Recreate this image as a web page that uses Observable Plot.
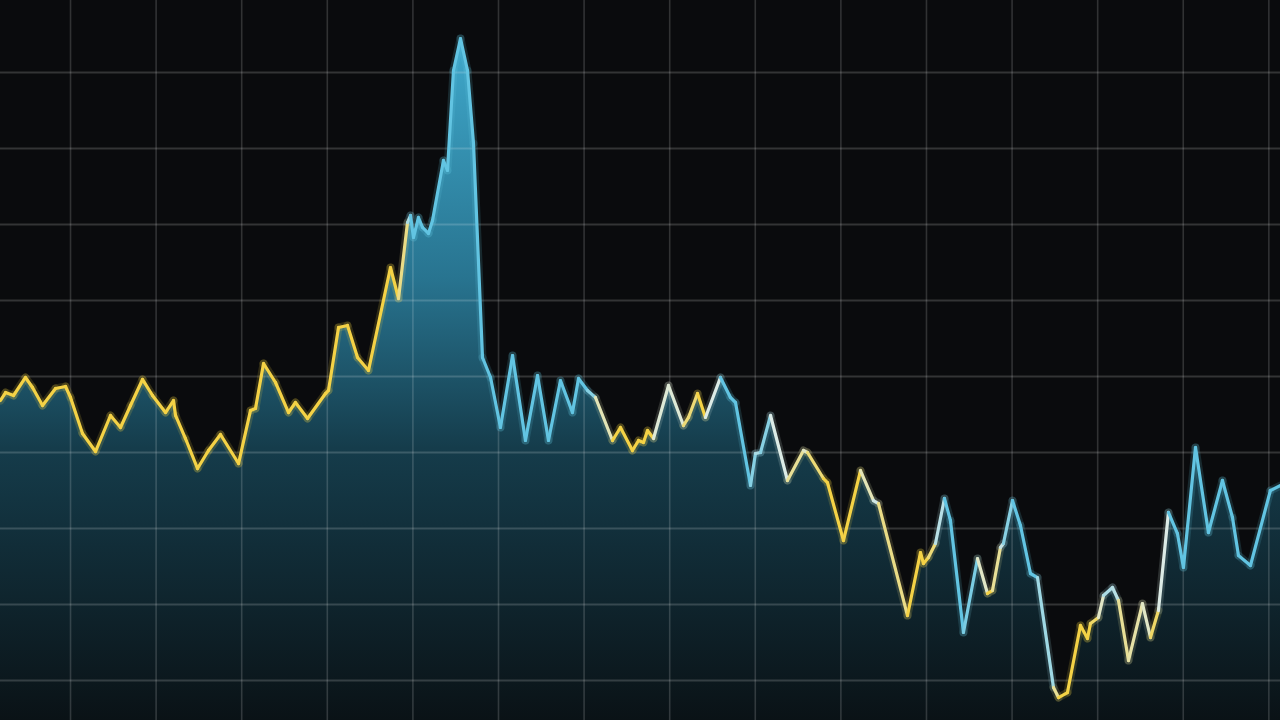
<!DOCTYPE html>
<html>
<head>
<meta charset="utf-8">
<script src="https://cdn.jsdelivr.net/npm/d3@7"></script>
<script src="https://cdn.jsdelivr.net/npm/@observablehq/plot@0.6"></script>
<style>
  html, body { margin: 0; padding: 0; background: #0a0b0d; overflow: hidden; }
  #chart { width: 1280px; height: 720px; }
</style>
</head>
<body>
<div id="chart"></div>
<script>
// time index (grid every 10 units)
const t = [1.82,2.41,3.34,4.74,5.56,6.73,8.25,9.42,10.0,11.40,12.92,14.67,15.84,17.01,18.41,19.58,21.10,22.03,22.27,23.43,24.84,26.12,27.52,29.63,31.03,31.61,32.55,33.95,35.47,36.28,37.69,39.79,40.14,41.31,42.36,43.53,44.81,47.38,48.32,49.37,49.72,50.07,50.65,51.12,51.82,52.29,53.57,54.04,54.74,55.56,56.38,57.08,58.13,59.07,60.23,61.64,63.15,64.56,65.84,67.24,68.64,69.35,70.40,71.33,73.32,74.25,75.65,76.36,76.94,77.41,78.11,79.86,81.61,82.20,83.25,84.18,85.93,87.10,87.69,89.44,90.02,90.61,91.78,93.76,95.63,96.10,97.97,98.43,100.30,102.29,103.81,104.39,107.78,109.30,109.65,110.23,111.05,112.10,112.80,114.32,115.96,117.13,117.71,118.64,118.99,120.05,120.98,122.15,122.97,124.84,125.42,126.47,127.99,128.81,129.16,130.09,130.68,131.73,132.43,133.60,135.23,136.17,137.10,138.27,139.32,140.02,141.43,142.94,144.58,145.75,146.45,147.85,150.18,151.36];
// series value
const v = [36.84,37.89,37.5,39.87,38.55,36.18,38.42,38.68,37.24,32.5,30.13,34.87,33.29,36.18,39.61,37.5,35.26,36.84,34.87,31.84,27.89,30.26,32.37,28.55,35.53,35.79,41.71,39.21,35.26,36.58,34.47,37.76,38.16,46.45,46.71,42.5,40.79,54.34,50.26,60.26,61.18,58.29,60.92,59.61,58.82,60.53,68.42,67.11,80.26,84.47,80.26,70.66,42.5,39.87,33.29,42.76,31.58,40.13,31.58,39.47,35.26,39.74,38.16,37.24,31.58,33.29,30.26,31.58,31.32,32.89,31.84,38.82,33.55,34.61,37.76,34.61,39.87,37.24,36.58,25.66,29.87,30.0,34.87,26.32,30.26,30.0,26.58,26.05,18.42,27.63,23.68,23.29,8.55,16.84,15.39,16.18,18.03,23.95,21.05,6.32,16.05,11.45,11.84,17.5,18.03,23.68,20.39,14.08,13.55,-0.92,-2.24,-1.58,7.24,5.53,7.5,8.29,11.18,12.24,10.53,2.63,10.13,5.66,9.21,22.11,19.34,14.87,30.66,19.47,26.32,21.45,16.45,15.13,25.0,25.66];
// line tone: 0 = cyan, 1 = yellow
const warm = [1,1,1,1,1,1,1,1,1,1,1,1,1,1,1,1,1,1,1,1,1,1,1,1,1,1,1,1,1,1,1,1,1,1,1,1,1,1,1,0.6,0,0,0,0,0,0,0,0,0,0,0,0,0,0,0,0,0,0,0,0,0,0,0,0.3,1,1,1,1,1,1,1,0.1,1,0.7,1,1,0,0,0,0,0.3,0.3,0,1,0.5,0.7,1,1,1,1,0.3,0.6,1,1,1,1,0.7,0,0,0,0.2,1,1,0.5,0.3,0,0,0,0,0.5,1,1,1,1,1,0.8,0.4,0.2,0.5,1,0.4,0.8,1,0,0,0,0,0,0,0,0,0,0,0];

const xTicks = [10,20,30,40,50,60,70,80,90,100,110,120,130,140,150];
const yTicks = [0,10,20,30,40,50,60,70,80];
const xDomain = [1.82, 151.36];
const yDomain = [-5.26, 89.47];

const rows = t.map((d, i) => ({t: d, v: v[i], w: warm[i]}));
const segs = d3.pairs(rows).map(([a, b]) => ({x1: a.t, y1: a.v, x2: b.t, y2: b.v, w: (a.w + b.w) / 2}));

const plot = Plot.plot({
  width: 1280,
  height: 720,
  margin: 0,
  x: {domain: xDomain, axis: null},
  y: {domain: yDomain, axis: null},
  color: {type: "linear", domain: [0, 1], interpolate: d3.piecewise(d3.interpolateRgb, ["#62c4e2", "#dcebe6", "#f4d246"])},
  style: {background: "#0a0b0d"},
  marks: [
    Plot.areaY(rows, {x: "t", y1: yDomain[0], y2: "v", fill: "url(#areaGrad)"}),
    Plot.gridX(xTicks, {stroke: "#ffffff", strokeOpacity: 0.16, strokeWidth: 1.6}),
    Plot.gridY(yTicks, {stroke: "#ffffff", strokeOpacity: 0.17, strokeWidth: 1.8}),
    Plot.link(segs, {x1: "x1", y1: "y1", x2: "x2", y2: "y2", stroke: "w", strokeWidth: 8, strokeOpacity: 0.16, strokeLinecap: "round"}),
    Plot.link(segs, {x1: "x1", y1: "y1", x2: "x2", y2: "y2", stroke: "w", strokeWidth: 3.2, strokeLinecap: "round"})
  ]
});

const defs = d3.select(plot).insert("defs", ":first-child");
const g = defs.append("linearGradient")
  .attr("id", "areaGrad")
  .attr("gradientUnits", "userSpaceOnUse")
  .attr("x1", 0).attr("y1", 40).attr("x2", 0).attr("y2", 720);
g.append("stop").attr("offset", 0).attr("stop-color", "#3fa8cb");
g.append("stop").attr("offset", 0.35).attr("stop-color", "#287490");
g.append("stop").attr("offset", 0.6).attr("stop-color", "#153c4b");
g.append("stop").attr("offset", 1).attr("stop-color", "#0a1216");

document.getElementById("chart").appendChild(plot);
</script>
</body>
</html>
